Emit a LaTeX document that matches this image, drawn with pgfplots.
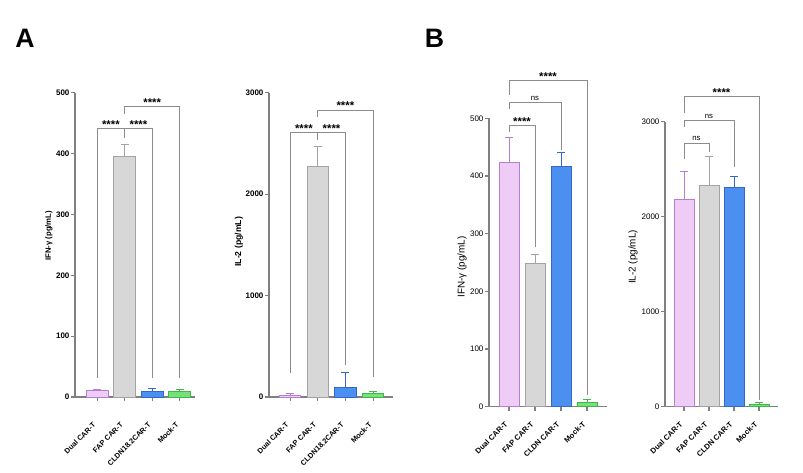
\documentclass[border=0pt]{standalone}
\usepackage{pgfplots}
\pgfplotsset{compat=1.18}
\usepackage{fontspec}
\setmainfont{Liberation Sans}

\definecolor{dualfill}{HTML}{EECCF6}
\definecolor{dualedge}{HTML}{B57ECF}
\definecolor{fapfill}{HTML}{D7D7D7}
\definecolor{fapedge}{HTML}{A3A3A3}
\definecolor{cldnfill}{HTML}{4B8FF0}
\definecolor{cldnedge}{HTML}{3467CC}
\definecolor{mockfill}{HTML}{78E078}
\definecolor{mockedge}{HTML}{3FB84A}
\definecolor{axisgray}{HTML}{808080}
\definecolor{brk}{HTML}{8C8C8C}

\pgfplotsset{
  cbar/.style 2 args={fill=#1, draw=#2, line width=0.6pt,
    error bars/.cd, y dir=plus, y explicit,
    error bar style={draw=#2, line width=0.7pt},
    error mark options={rotate=90, draw=#2, line width=0.7pt, mark size=3pt}},
  panel/.style={
    scale only axis, anchor=south west, clip=false,
    axis x line*=bottom, axis y line*=left,
    axis line style={draw=axisgray, line width=0.8pt},
    tick style={draw=axisgray, line width=0.8pt},
    tick align=outside, major tick length=3pt,
    ymin=0, xtick={0,1,2,3},
    ybar, bar shift=0pt,
    /pgf/number format/1000 sep={},
    /pgf/number format/assume math mode=true,
    yticklabel style={inner sep=1pt},
  },
  panelA/.style={panel,
    yticklabel style={font=\fontsize{6}{7}\selectfont\bfseries},
    xticklabel style={font=\fontsize{5.5}{6}\selectfont\bfseries,
      xshift=-3.5pt, yshift=-14pt, rotate=45, anchor=north east, inner sep=1pt},
    ylabel style={font=\fontsize{5.8}{6.5}\selectfont\bfseries, anchor=center},
  },
  panelB/.style={panel,
    yticklabel style={font=\fontsize{6}{7}\selectfont},
    xticklabel style={font=\fontsize{5.7}{6.5}\selectfont\bfseries,
      xshift=-3.5pt, yshift=-6pt, rotate=45, anchor=north east, inner sep=1pt},
    ylabel style={font=\fontsize{7.4}{8}\selectfont, anchor=center},
  },
}
\tikzset{
  brkt/.style={draw=brk, line width=0.7pt},
  stars/.style={anchor=base, inner sep=0pt, font=\fontsize{8.5}{9}\selectfont\bfseries},
  nslab/.style={anchor=base, inner sep=0pt, font=\fontsize{5.8}{7}\selectfont},
}

\begin{document}
\begin{tikzpicture}
\path[use as bounding box, fill=white] (0,0) rectangle (602.25pt,354pt);

\node[inner sep=0pt, font=\fontsize{20}{24}\selectfont\bfseries] at (18.75pt,324.9pt) {A};
\node[inner sep=0pt, font=\fontsize{20}{24}\selectfont\bfseries] at (325.9pt,324.9pt) {B};

% A: IFN-gamma
\begin{axis}[panelA, at={(56.25pt,56.25pt)}, width=90pt, height=228.2pt,
  xmin=-0.8, xmax=3.55, ymax=500, ytick={0,100,200,300,400,500},
  bar width=0.8,
  xticklabels={Dual CAR-T, FAP CAR-T, CLDN18.2CAR-T, Mock-T},
  ylabel={IFN-γ (pg/mL)},
  ylabel style={at={(axis description cs:-0.217,0.53)}}]
\addplot[cbar={dualfill}{dualedge}] coordinates {(0,11.5) +- (0,1.5)};
\addplot[cbar={fapfill}{fapedge}] coordinates {(1,396) +- (0,19)};
\addplot[cbar={cldnfill}{cldnedge}] coordinates {(2,8.8) +- (0,5.2)};
\addplot[cbar={mockfill}{mockedge}] coordinates {(3,8.8) +- (0,4.2)};
\draw[brkt] (axis cs:0,31) |- (axis cs:1,441) -- (axis cs:1,426);
\draw[brkt] (axis cs:1,426) |- (axis cs:2,441) -- (axis cs:2,31);
\draw[brkt] (axis cs:1,465) |- (axis cs:3,477) -- (axis cs:3,31);
\node[stars] at (axis cs:0.5,441) {****};
\node[stars] at (axis cs:1.5,441) {****};
\node[stars] at (axis cs:2,477) {****};
\end{axis}

% A: IL-2
\begin{axis}[panelA, at={(201.75pt,56.25pt)}, width=93pt, height=228.2pt,
  xmin=-0.76, xmax=3.72, ymax=3000, ytick={0,1000,2000,3000},
  bar width=0.78,
  xticklabels={Dual CAR-T, FAP CAR-T, CLDN18.2CAR-T, Mock-T},
  ylabel={IL-2 (pg/mL)},
  ylabel style={at={(axis description cs:-0.242,0.51)}, font=\fontsize{6.5}{7}\selectfont\bfseries}]
\addplot[cbar={dualfill}{dualedge}] coordinates {(0,20) +- (0,19)};
\addplot[cbar={fapfill}{fapedge}] coordinates {(1,2271) +- (0,197)};
\addplot[cbar={cldnfill}{cldnedge}] coordinates {(2,90) +- (0,150)};
\addplot[cbar={mockfill}{mockedge}] coordinates {(3,36) +- (0,16)};
\draw[brkt] (axis cs:0,236) |- (axis cs:1,2605) -- (axis cs:1,2534);
\draw[brkt] (axis cs:1,2534) |- (axis cs:2,2605) -- (axis cs:2,315);
\draw[brkt] (axis cs:1,2757) |- (axis cs:3,2830) -- (axis cs:3,200);
\node[stars] at (axis cs:0.5,2605) {****};
\node[stars] at (axis cs:1.5,2605) {****};
\node[stars] at (axis cs:2,2830) {****};
\end{axis}

% B: IFN-gamma
\begin{axis}[panelB, at={(366.75pt,48.98pt)}, width=88.5pt, height=216.3pt,
  xmin=-0.77, xmax=3.77, ymax=500, ytick={0,100,200,300,400,500},
  bar width=0.77,
  xticklabels={Dual CAR-T, FAP CAR-T, CLDN CAR-T, Mock-T},
  ylabel={IFN-γ (pg/mL)},
  ylabel style={at={(axis description cs:-0.229,0.484)}}]
\addplot[cbar={dualfill}{dualedge}] coordinates {(0,424) +- (0,42)};
\addplot[cbar={fapfill}{fapedge}] coordinates {(1,249) +- (0,15)};
\addplot[cbar={cldnfill}{cldnedge}] coordinates {(2,417) +- (0,23)};
\addplot[cbar={mockfill}{mockedge}] coordinates {(3,7.6) +- (0,5.4)};
\draw[brkt] (axis cs:0,477) |- (axis cs:1,487) -- (axis cs:1,277);
\draw[brkt] (axis cs:0,516) |- (axis cs:2,527) -- (axis cs:2,445);
\draw[brkt] (axis cs:0,540) |- (axis cs:3,566) -- (axis cs:3,20);
\node[stars] at (axis cs:0.5,487) {****};
\node[nslab] at (axis cs:1,531) {ns};
\node[stars] at (axis cs:1.5,566) {****};
\end{axis}

% B: IL-2
\begin{axis}[panelB, at={(498.75pt,48.98pt)}, width=84.75pt, height=213.75pt,
  xmin=-0.76, xmax=3.76, ymax=3000, ytick={0,1000,2000,3000},
  bar width=0.8,
  xticklabels={Dual CAR-T, FAP CAR-T, CLDN CAR-T, Mock-T},
  ylabel={IL-2 (pg/mL)},
  ylabel style={at={(axis description cs:-0.283,0.525)}}]
\addplot[cbar={dualfill}{dualedge}] coordinates {(0,2186) +- (0,292)};
\addplot[cbar={fapfill}{fapedge}] coordinates {(1,2330) +- (0,302)};
\addplot[cbar={cldnfill}{cldnedge}] coordinates {(2,2309) +- (0,119)};
\addplot[cbar={mockfill}{mockedge}] coordinates {(3,28) +- (0,14)};
\draw[brkt] (axis cs:0,2604) |- (axis cs:1,2773) -- (axis cs:1,2684);
\draw[brkt] (axis cs:0,2947) |- (axis cs:2,3010) -- (axis cs:2,2526);
\draw[brkt] (axis cs:0,3088) |- (axis cs:3,3263) -- (axis cs:3,70);
\node[nslab] at (axis cs:0.5,2800) {ns};
\node[nslab] at (axis cs:1,3037) {ns};
\node[stars] at (axis cs:1.5,3263) {****};
\end{axis}
\end{tikzpicture}
\end{document}
